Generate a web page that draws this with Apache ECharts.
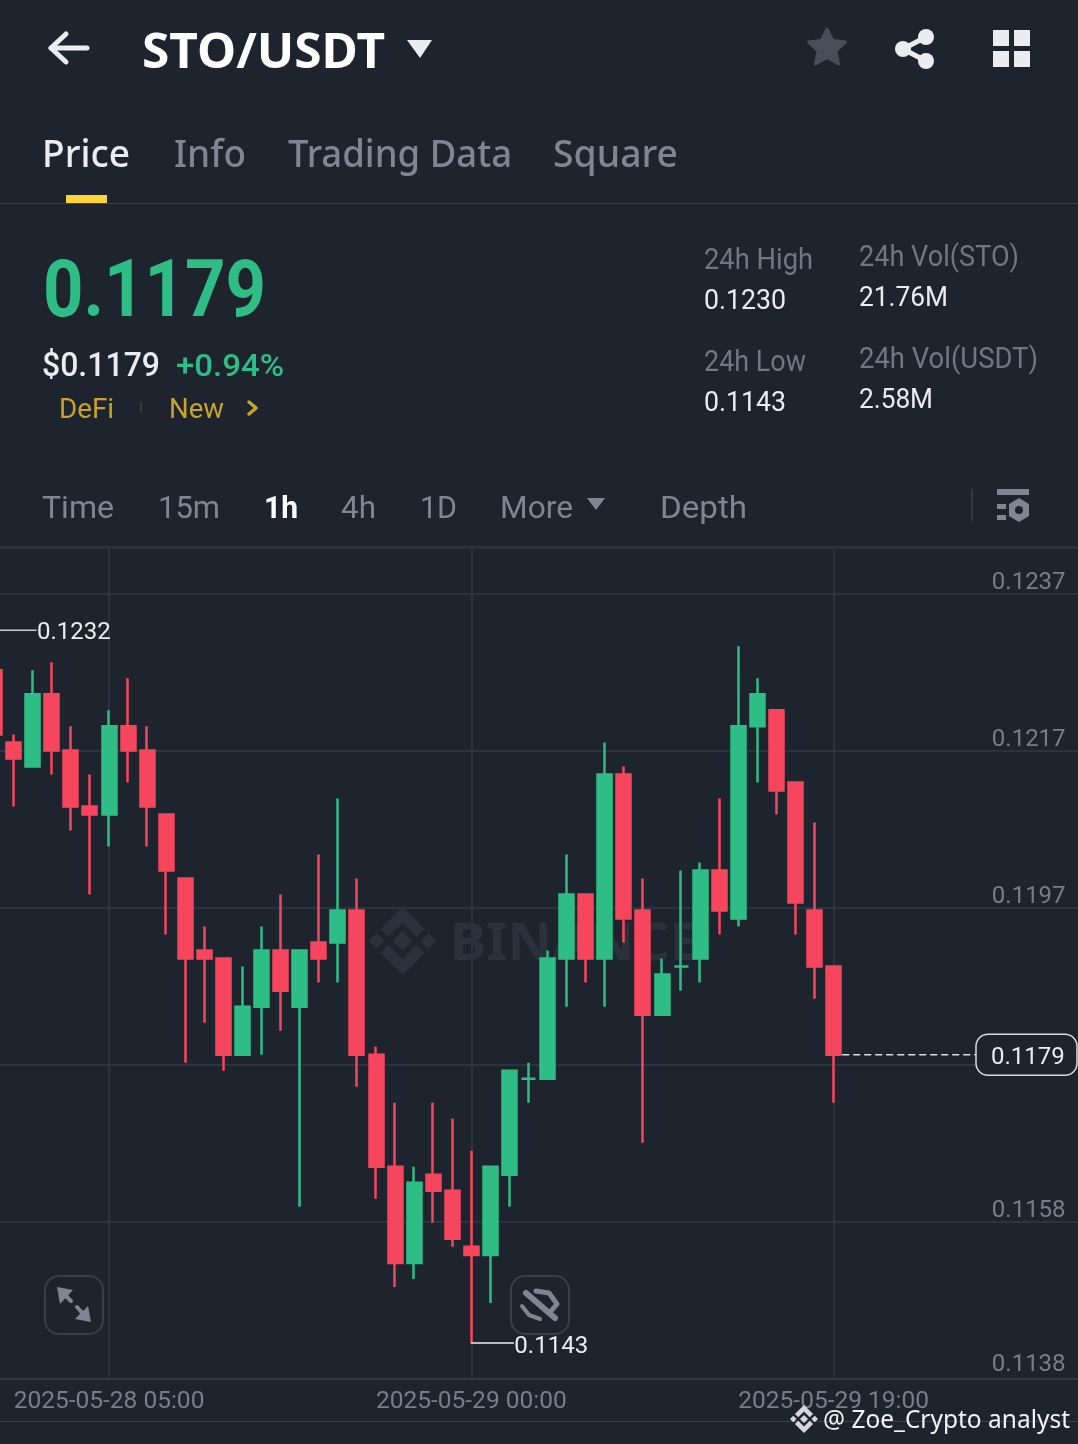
<!DOCTYPE html>
<html lang="en">
<head>
<meta charset="utf-8" />
<title>STO/USDT</title>
<script src="https://cdn.jsdelivr.net/npm/echarts@6/dist/echarts.min.js"></script>
<style>
  html, body { margin: 0; padding: 0; background: #1e242e; overflow: hidden; }
  /* wider than the window: the first candle sits half off the left edge */
  #main { width: 1098px; height: 1444px; margin-left: -10px; }
</style>
</head>
<body>
<div id="main"></div>
<script>
// hourly candles
const hours = [
  '2025-05-27 23:00',
  '2025-05-28 00:00', '2025-05-28 01:00', '2025-05-28 02:00', '2025-05-28 03:00', '2025-05-28 04:00',
  '2025-05-28 05:00', '2025-05-28 06:00', '2025-05-28 07:00', '2025-05-28 08:00', '2025-05-28 09:00',
  '2025-05-28 10:00', '2025-05-28 11:00', '2025-05-28 12:00', '2025-05-28 13:00', '2025-05-28 14:00',
  '2025-05-28 15:00', '2025-05-28 16:00', '2025-05-28 17:00', '2025-05-28 18:00', '2025-05-28 19:00',
  '2025-05-28 20:00', '2025-05-28 21:00', '2025-05-28 22:00', '2025-05-28 23:00', '2025-05-29 00:00',
  '2025-05-29 01:00', '2025-05-29 02:00', '2025-05-29 03:00', '2025-05-29 04:00', '2025-05-29 05:00',
  '2025-05-29 06:00', '2025-05-29 07:00', '2025-05-29 08:00', '2025-05-29 09:00', '2025-05-29 10:00',
  '2025-05-29 11:00', '2025-05-29 12:00', '2025-05-29 13:00', '2025-05-29 14:00', '2025-05-29 15:00',
  '2025-05-29 16:00', '2025-05-29 17:00', '2025-05-29 18:00', '2025-05-29 19:00'
];
const opens = [
  0.1227, 0.1218, 0.1215, 0.1224, 0.1217, 0.1210, 0.1209, 0.1220, 0.1217, 0.1209,
  0.1201, 0.1192, 0.1191, 0.1179, 0.1185, 0.1192, 0.1185, 0.1193, 0.1193, 0.1197,
  0.1179, 0.1165, 0.1153, 0.1164, 0.1162, 0.1155, 0.1154, 0.1164, 0.1176, 0.1176,
  0.1191, 0.1199, 0.1191, 0.1214, 0.1197, 0.1184, 0.1190, 0.1191, 0.1202, 0.1196,
  0.1220, 0.1222, 0.1213, 0.1197, 0.1190
];
const closes = [
  0.1219, 0.1216, 0.1224, 0.1217, 0.1210, 0.1209, 0.1220, 0.1217, 0.1210, 0.1202,
  0.1191, 0.1191, 0.1179, 0.1185, 0.1192, 0.1187, 0.1192, 0.1191, 0.1197, 0.1179,
  0.1165, 0.1153, 0.1163, 0.1162, 0.1156, 0.1154, 0.1165, 0.1177, 0.1176, 0.1191,
  0.1199, 0.1191, 0.1214, 0.1196, 0.1184, 0.1189, 0.1190, 0.1202, 0.1197, 0.1220,
  0.1224, 0.1212, 0.1198, 0.1190, 0.1179
];
const lows = [
  0.1218, 0.1210, 0.1215, 0.1214, 0.1207, 0.1199, 0.1205, 0.1213, 0.1205, 0.1194,
  0.1178, 0.1183, 0.1177, 0.1179, 0.1179, 0.1182, 0.1160, 0.1188, 0.1188, 0.1175,
  0.1161, 0.1150, 0.1151, 0.1158, 0.1155, 0.1143, 0.1148, 0.1160, 0.1173, 0.1176,
  0.1185, 0.1188, 0.1185, 0.1193, 0.1168, 0.1184, 0.1187, 0.1188, 0.1194, 0.1195,
  0.1213, 0.1209, 0.1194, 0.1186, 0.1173
];
const highs = [
  0.1228, 0.1219, 0.1227, 0.1228, 0.1220, 0.1214, 0.1222, 0.1226, 0.1220, 0.1209,
  0.1201, 0.1195, 0.1191, 0.1190, 0.1195, 0.1199, 0.1192, 0.1204, 0.1211, 0.1201,
  0.1180, 0.1173, 0.1165, 0.1173, 0.1171, 0.1167, 0.1165, 0.1177, 0.1178, 0.1192,
  0.1204, 0.1199, 0.1218, 0.1215, 0.1201, 0.1191, 0.1202, 0.1203, 0.1211, 0.1230,
  0.1226, 0.1222, 0.1213, 0.1208, 0.1190
];
const emptySlots = 13;   // room to the right of the last candle

const xTickLabels = ['2025-05-28 05:00', '2025-05-29 00:00', '2025-05-29 19:00'];
// price gridlines and the rounded labels the app prints on them
const yTickValues = [0.11385, 0.11581, 0.11777, 0.11973, 0.12169, 0.12365];
const yTickLabels = ['{low|0.1138}', '0.1158', '', '0.1197', '0.1217', '0.1237'];

const chartHigh = 0.1232;
const chartLow = 0.1143;
const lastPrice = 0.1179;

const bg = '#1e242e';
const upColor = '#2ebd85';
const downColor = '#f6465d';
const white = '#eaecef';
const grey = '#7e8694';
const lineColor = '#323844';
const shift = 10;   // the canvas starts this far left of the window

var categories = hours.slice();
for (var i = 0; i < emptySlots; i++) categories.push('');

var candleData = [];
for (var i = 0; i < hours.length; i++) {
  candleData.push([opens[i], closes[i], lows[i], highs[i]]);
}

var myChart = echarts.init(document.getElementById('main'));
var measure = document.createElement('canvas').getContext('2d');

// text with its left edge at x, alphabetic baseline at base, squeezed to the width w
function txt(text, x, base, size, color, weight, w, family) {
  var rise = family ? 0.29 : 0.25;
  family = family || 'Roboto';
  var font = weight + ' ' + size + 'px ' + family;
  measure.font = font;
  var sx = w ? w / measure.measureText(text).width : 1;
  return {
    type: 'text', z: 20, x: x, y: base - size * rise, scaleX: sx,
    style: { text: text, x: 0, y: 0, fill: color, font: font, verticalAlign: 'middle', align: 'left' }
  };
}
function rect(x, y, w, h, color, z) {
  return { type: 'rect', z: z === undefined ? 20 : z, shape: { x: x, y: y, width: w, height: h }, style: { fill: color } };
}
function poly(points, color, z) {
  return { type: 'polygon', z: z === undefined ? 20 : z, shape: { points: points }, style: { fill: color } };
}
function line(points, color, width, dash) {
  return {
    type: 'polyline', z: 20, shape: { points: points },
    style: { stroke: color, lineWidth: width, fill: null, lineDash: dash || null, lineCap: 'round', lineJoin: 'round' }
  };
}
function button(x, y, size) {
  return {
    type: 'rect', z: 20, shape: { x: x, y: y, width: size, height: size, r: 14 },
    style: { fill: bg, stroke: '#383e4a', lineWidth: 2 }
  };
}
function logo(cx, cy, r, color, z) {
  var k = r / 34;
  function p(list) {
    return poly(list.map(function (a) { return [cx + a[0] * k, cy + a[1] * k]; }), color, z);
  }
  return [
    p([[0, -10], [10, 0], [0, 10], [-10, 0]]),
    p([[-26, -8], [-18, 0], [-26, 8], [-34, 0]]),
    p([[26, -8], [34, 0], [26, 8], [18, 0]]),
    p([[0, -34], [22, -12], [14, -4], [0, -18], [-14, -4], [-22, -12]]),
    p([[0, 34], [22, 12], [14, 4], [0, 18], [-14, 4], [-22, 12]])
  ];
}

var option = {
  backgroundColor: bg,
  animation: false,
  grid: { left: 4.6, right: 6.4, top: 547, bottom: 65 },
  xAxis: {
    type: 'category',
    data: categories,
    boundaryGap: false,
    axisLine: { lineStyle: { color: lineColor, width: 2 } },
    axisTick: { show: false },
    axisLabel: {
      interval: function (index, value) { return xTickLabels.indexOf(value) >= 0; },
      color: '#777e8b', fontFamily: 'Roboto', fontSize: 24.5, margin: 10
    },
    splitLine: {
      show: true,
      interval: function (index, value) { return xTickLabels.indexOf(value) >= 0; },
      lineStyle: { color: lineColor, width: 1.5 }
    }
  },
  yAxis: {
    type: 'value',
    position: 'right',
    min: 0.11385,
    max: 0.12424,
    axisLine: { show: false },
    axisTick: { show: false, customValues: yTickValues },
    axisLabel: {
      inside: true,
      customValues: yTickValues,
      showMinLabel: true,
      showMaxLabel: true,
      align: 'right',
      verticalAlign: 'bottom',
      margin: 16,
      lineHeight: 20,
      padding: [0, 0, 1, 0],
      color: '#777e8b', fontFamily: 'Roboto', fontSize: 24,
      rich: {
        low: { color: '#777e8b', fontFamily: 'Roboto', fontSize: 24, lineHeight: 24, padding: [0, 0, 3, 0] }
      },
      formatter: function (value) {
        return yTickLabels[yTickValues.indexOf(value)];
      }
    },
    splitLine: { show: true, lineStyle: { color: lineColor, width: 1.5 } }
  },
  series: [{
    type: 'candlestick',
    data: candleData,
    barWidth: 14.5,
    clip: false,
    itemStyle: {
      color: upColor, color0: downColor,
      borderColor: upColor, borderColor0: downColor, borderColorDoji: upColor,
      borderWidth: 2.5
    }
  }]
};
myChart.setOption(option);

var els = [];

// header
els.push(line([[87, 48], [51, 48]], white, 5));
els.push(line([[66, 34], [51, 48], [66, 62]], white, 5));
els.push(txt('STO/USDT', 142, 68, 48, '#ffffff', 700, 243, '"Noto Sans"'));
els.push(poly([[407, 40], [432, 40], [420, 58]], white));
els.push({
  type: 'polygon', z: 20,
  shape: { points: [[827, 29], [832.5, 40.5], [845.5, 42], [836, 51], [838.5, 64], [827, 57.5], [815.5, 64], [818, 51], [808.5, 42], [821.5, 40.5]] },
  style: { fill: '#474d59', stroke: '#474d59', lineWidth: 3, lineJoin: 'round' }
});
els.push(line([[926, 37], [903, 49], [926, 61]], white, 5));
[[926, 37], [903, 49], [926, 61]].forEach(function (c) {
  els.push({ type: 'circle', z: 20, shape: { cx: c[0], cy: c[1], r: 8 }, style: { fill: white } });
});
els.push(rect(993, 30, 16, 16, white), rect(1014, 30, 16, 16, white), rect(993, 51, 16, 16, white), rect(1014, 51, 16, 16, white));

// tabs
els.push(txt('Price', 42, 167, 38, white, 500, 88, '"Noto Sans"'));
els.push(txt('Info', 174, 167, 38, grey, 500, 72, '"Noto Sans"'));
els.push(txt('Trading Data', 288, 167, 38, grey, 500, 224, '"Noto Sans"'));
els.push(txt('Square', 553, 167, 38, grey, 500, 125, '"Noto Sans"'));
els.push(rect(66, 195, 41, 8, '#fcd535'));
els.push(rect(0, 203, 1078, 1, '#3a404b'));

// price block
els.push(txt('0.1179', 43, 316, 80, upColor, 700, 223));
els.push(txt('$0.1179', 42, 376, 33, white, 500, 118));
els.push(txt('+0.94%', 176, 376, 31, upColor, 500, 108));
els.push(txt('DeFi', 59, 418, 27, '#c9a22c', 400, 55));
els.push(rect(140, 402, 2, 11, '#333a46'));
els.push(txt('New', 169, 418, 27, '#c9a22c', 400, 55));
els.push(line([[249, 402], [256, 408], [249, 414]], '#c9a22c', 3.5));

// 24h stats
var statGrey = '#6f7785';
els.push(txt('24h High', 704, 269, 29, statGrey, 400, 109));
els.push(txt('0.1230', 704, 309, 28, white, 400, 82));
els.push(txt('24h Low', 704, 371, 29, statGrey, 400, 102));
els.push(txt('0.1143', 704, 411, 28, white, 400, 82));
els.push(txt('24h Vol(STO)', 859, 266, 29, statGrey, 400, 160));
els.push(txt('21.76M', 859, 306, 28, white, 400, 89));
els.push(txt('24h Vol(USDT)', 859, 368, 29, statGrey, 400, 179));
els.push(txt('2.58M', 859, 408, 28, white, 400, 74));

// interval row
els.push(txt('Time', 42, 518, 32, grey, 400, 72));
els.push(txt('15m', 158, 518, 32, grey, 400, 62));
els.push(txt('1h', 264, 518, 32, '#ffffff', 700, 34));
els.push(txt('4h', 341, 518, 32, grey, 400, 35));
els.push(txt('1D', 420, 518, 32, grey, 400, 37));
els.push(txt('More', 500, 518, 32, grey, 400, 73));
els.push(poly([[587, 498], [605, 498], [596, 510]], grey));
els.push(txt('Depth', 660, 518, 32, grey, 400, 87));
els.push(rect(971, 489, 2, 32, '#333a46'));
els.push(rect(997, 489, 32, 6, grey), rect(997, 504, 9, 5, grey), rect(997, 515, 9, 5, grey));
els.push(poly([[1019, 498], [1029, 504], [1029, 516], [1019, 522], [1009, 516], [1009, 504]], grey));
els.push({ type: 'circle', z: 21, shape: { cx: 1019, cy: 510, r: 4 }, style: { fill: bg } });
els.push(rect(0, 546, 1078, 3, '#2b313c', 1));

// watermark behind the candles
logo(402.5, 941, 34, '#2b313c', 0).forEach(function (e) { els.push(e); });
var mark = txt('BINANCE', 450, 960, 52, '#2b313c', 700, 250, '"Noto Sans"');
mark.z = 0;
els.push(mark);

// buttons on the chart
els.push(button(45, 1276, 58));
els.push(poly([[57, 1287], [73, 1290], [60, 1304]], grey), line([[64, 1294], [71, 1301]], grey, 4));
els.push(poly([[91, 1322], [75, 1319], [88, 1306]], grey), line([[77, 1307], [84, 1315]], grey, 4));
els.push(button(511, 1276, 58));
els.push(line([[526, 1293], [555, 1318]], grey, 6));
els.push(line([[536, 1291], [549, 1293], [557, 1304], [552, 1310]], grey, 5));
els.push(line([[522, 1306], [529, 1315], [540, 1319]], grey, 4));

// high, low and last price annotations placed on the chart scale
var highY = myChart.convertToPixel({ gridIndex: 0 }, [0, chartHigh])[1];
els.push(line([[0, highY], [36, highY]], '#c8ccd2', 1.5));
els.push(txt(chartHigh.toFixed(4), 37, highY + 8.5, 24, white, 400));

var lowPt = myChart.convertToPixel({ gridIndex: 0 }, [lows.indexOf(chartLow), chartLow]);
var lowX = lowPt[0] - shift;
els.push(line([[lowX, lowPt[1]], [lowX + 42, lowPt[1]]], '#eaecef', 1.5));
els.push(txt(chartLow.toFixed(4), lowX + 43, lowPt[1] + 10.5, 24, white, 400));

var lastPt = myChart.convertToPixel({ gridIndex: 0 }, [hours.length - 1, lastPrice]);
els.push(line([[lastPt[0] - shift + 9, lastPt[1]], [975, lastPt[1]]], '#d8dbe0', 1.5, [6, 5]));
els.push({
  type: 'rect', z: 20, shape: { x: 976, y: lastPt[1] - 20.5, width: 101, height: 41, r: 12 },
  style: { fill: bg, stroke: '#d8dbe0', lineWidth: 1.5 }
});
els.push(txt(lastPrice.toFixed(4), 991, lastPt[1] + 9.5, 24, white, 400));

// footer
els.push(rect(0, 1421, 1078, 1, '#3a404b', 1));
logo(804, 1419, 14, '#d5d7da', 20).forEach(function (e) { els.push(e); });
els.push(txt('@ Zoe_Crypto analyst', 823, 1428, 26, '#f2f3f5', 400, 247, '"Noto Sans"'));

myChart.setOption({ graphic: { elements: [{ type: 'group', x: shift, y: 0, children: els }] } });
</script>
</body>
</html>
